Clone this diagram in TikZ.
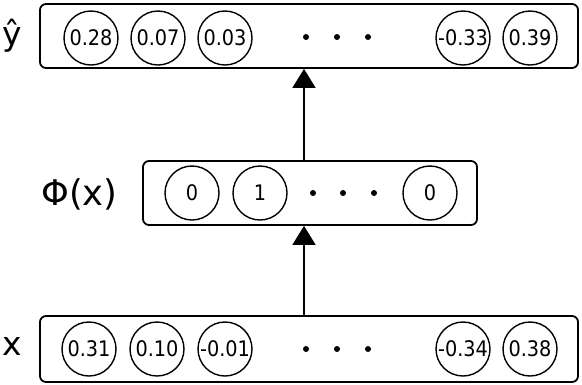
\documentclass[tikz,border=0pt]{standalone}
\usepackage{fontspec}
\setmainfont{DejaVu Sans}
\newfontfamily\condfont{DejaVu Sans Condensed}
\usetikzlibrary{arrows.meta,positioning}

\begin{document}
\begin{tikzpicture}[x=1bp, y=-1bp,
  layer/.style={draw, line width=1.8bp, rounded corners=6bp,
                minimum height=64bp, inner sep=0pt},
  unit/.style={draw, circle, line width=1.4bp, minimum size=54bp,
               inner sep=0pt, font=\condfont\fontsize{21.5}{23}\selectfont},
  dot/.style={circle, fill, minimum size=6bp, inner sep=0pt},
  lbl/.style={font=\fontsize{33}{36}\selectfont, inner sep=0pt, anchor=base west},
  ar/.style={-{Triangle[width=23bp,length=19bp]}, line width=1.8bp}]
\useasboundingbox (0,0) rectangle (582,384);
% output layer
\node[layer, minimum width=538bp] (yhat) at (309,36) {};
\node[lbl] (ylab) at (2,45) {ŷ};
\node[unit] (y1) at (91,38) {0.28};
\node[unit] (y2) at (158,38) {0.07};
\node[unit] (y3) at (225,38) {0.03};
\node[unit] (y4) at (463,38) {-0.33};
\node[unit] (y5) at (530,38) {0.39};
\foreach \i/\xx in {1/306,2/337,3/368}
  \node[dot] (yd\i) at (\xx,37) {};
% feature layer
\node[layer, minimum width=334bp] (phi) at (310,193) {};
\node[lbl, font=\fontsize{35.5}{38}\selectfont] (philab) at (41,205) {Φ(x)};
\node[unit] (p1) at (192,193) {0};
\node[unit] (p2) at (260,193) {1};
\node[unit] (p3) at (430,193) {0};
\foreach \i/\xx in {1/313,2/343,3/374}
  \node[dot] (pd\i) at (\xx,193) {};
% input layer
\node[layer, minimum width=538bp, minimum height=66bp] (xin) at (309,349) {};
\node[lbl] (xlab) at (2,355) {x};
\node[unit] (x1) at (89,349) {0.31};
\node[unit] (x2) at (157,349) {0.10};
\node[unit] (x3) at (225,349) {-0.01};
\node[unit] (x4) at (463,349) {-0.34};
\node[unit] (x5) at (530,349) {0.38};
\foreach \i/\xx in {1/306,2/337,3/368}
  \node[dot] (xd\i) at (\xx,349) {};
% connections
\draw[ar] ([xshift=-6bp]phi.north) -- ([xshift=-6bp]phi.north |- yhat.south);
\draw[ar] ([xshift=-5bp]xin.north) -- ([xshift=-5bp]xin.north |- phi.south);
\end{tikzpicture}
\end{document}
